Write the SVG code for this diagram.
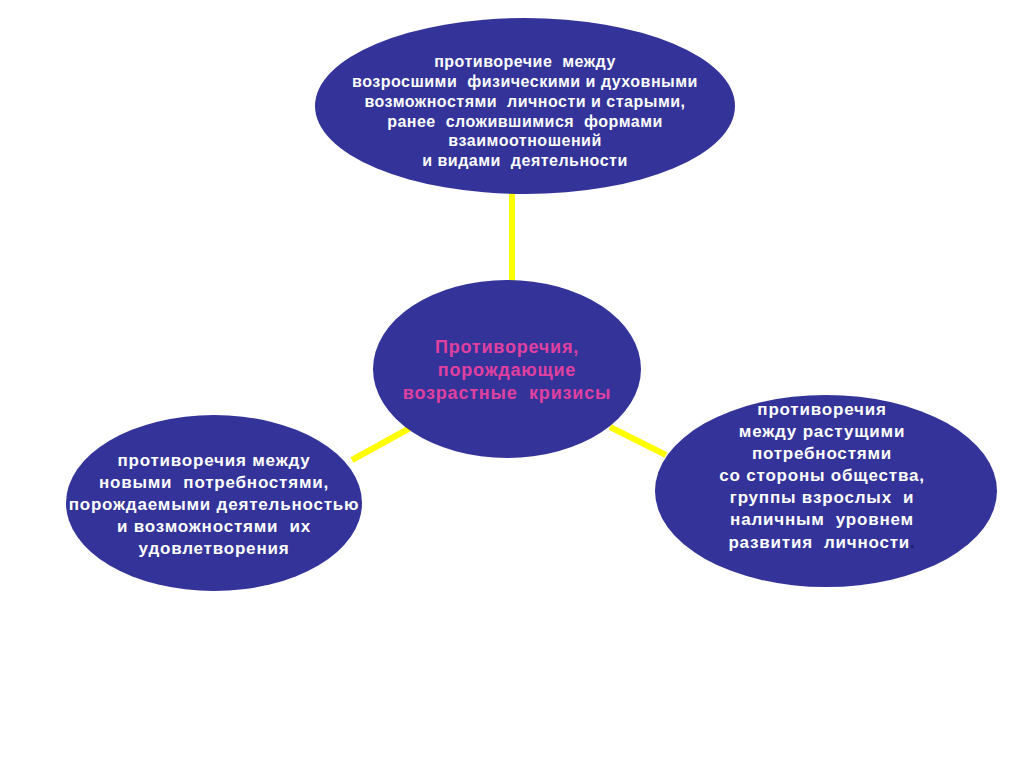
<svg xmlns="http://www.w3.org/2000/svg" width="1024" height="768" viewBox="0 0 1024 768">
<style>
.node{fill:#333399;}
text{white-space:pre;font-family:"Liberation Sans",Arial,sans-serif;font-weight:bold;text-anchor:middle;}
.t{font-size:16px;fill:#ffffff;letter-spacing:0.5px;}
.s{font-size:17px;fill:#ffffff;letter-spacing:0.8px;}
.c{font-size:18px;fill:#e0409f;letter-spacing:0.8px;}
.link{stroke:#ffff00;stroke-width:6;fill:none;}
</style>
<rect width="1024" height="768" fill="#ffffff"/>
<g id="connectors">
<line class="link" x1="512" y1="192" x2="512" y2="282"/>
<line class="link" x1="352" y1="460" x2="410" y2="428"/>
<line class="link" x1="610" y1="427" x2="666" y2="455"/>
</g>
<g id="top">
<ellipse class="node" cx="525" cy="106" rx="210" ry="88"/>
<text class="t" x="525" y="67">противоречие  между</text>
<text class="t" x="525" y="87">возросшими  физическими и духовными</text>
<text class="t" x="525" y="107">возможностями  личности и старыми,</text>
<text class="t" x="525" y="127">ранее  сложившимися  формами</text>
<text class="t" x="525" y="146">взаимоотношений</text>
<text class="t" x="525" y="166">и видами  деятельности</text>
</g>
<g id="center">
<ellipse class="node" cx="507" cy="369" rx="134" ry="89"/>
<text class="c" x="507" y="353">Противоречия,</text>
<text class="c" x="507" y="376">порождающие</text>
<text class="c" x="507" y="399">возрастные  кризисы</text>
</g>
<g id="left">
<ellipse class="node" cx="214" cy="503" rx="148" ry="88"/>
<text class="s" x="214" y="466">противоречия между</text>
<text class="s" x="214" y="488">новыми  потребностями,</text>
<text class="s" x="214" y="510">порождаемыми деятельностью</text>
<text class="s" x="214" y="532">и возможностями  их</text>
<text class="s" x="214" y="554">удовлетворения</text>
</g>
<g id="right">
<ellipse class="node" cx="826" cy="491" rx="171" ry="96"/>
<text class="s" x="822" y="415">противоречия</text>
<text class="s" x="822" y="437">между растущими</text>
<text class="s" x="822" y="459">потребностями</text>
<text class="s" x="822" y="481">со стороны общества,</text>
<text class="s" x="822" y="503">группы взрослых  и</text>
<text class="s" x="822" y="525">наличным  уровнем</text>
<text class="s" x="822" y="548">развития  личности<tspan fill="#1a1a66">.</tspan></text>
</g>
</svg>
